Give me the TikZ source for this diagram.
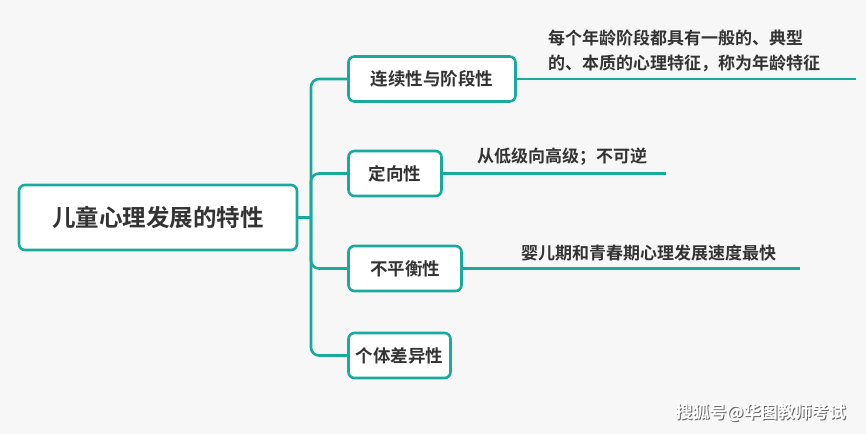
\documentclass[tikz,border=0pt]{standalone}
\usepackage{fontspec}
\newfontfamily\cjk{Noto Sans CJK SC}[BoldFont={Noto Sans CJK SC Bold}]
\definecolor{teal1}{HTML}{1AAA9B}
\definecolor{bg}{HTML}{F7F7F7}
\definecolor{txt}{HTML}{333333}
\begin{document}
\begin{tikzpicture}[x=1pt,y=-1pt,
  box/.style={draw=teal1,line width=2.6pt,rounded corners=6pt,fill=white,text=txt,font=\cjk\bfseries\fontsize{17.5}{20}\selectfont,inner sep=0pt},
  conn/.style={draw=teal1,line width=2.6pt},
  note/.style={text=txt,font=\cjk\bfseries\fontsize{17}{25}\selectfont,align=left,anchor=south west,inner sep=0pt}]
\fill[bg] (0,0) rectangle (866,434);
\useasboundingbox (0,0) rectangle (866,434);
\node[box,minimum width=278pt,minimum height=65pt,font=\cjk\bfseries\fontsize{23.5}{26}\selectfont] (root) at (158,217.5) {儿童心理发展的特性};
\node[box,minimum width=167pt,minimum height=45pt] (c1) at (432,79) {连续性与阶段性};
\node[box,minimum width=93pt,minimum height=45pt] (c2) at (395,173.5) {定向性};
\node[box,minimum width=113pt,minimum height=45pt] (c3) at (405,268.5) {不平衡性};
\node[box,minimum width=102pt,minimum height=45pt] (c4) at (399.5,355.5) {个体差异性};
\coordinate (t) at (311,217.5);
\draw[conn] (root.east) -- (t);
\draw[conn,rounded corners=8pt] (c1.west) -| (t) |- (c4.west);
\draw[conn,rounded corners=8pt] (t) |- (c2.west);
\draw[conn,rounded corners=8pt] (t) |- (c3.west);
\coordinate (e1) at (856,79);
\coordinate (e2) at (666,173.5);
\coordinate (e3) at (800,268.5);
\draw[conn] (c1.east) -- (e1);
\draw[conn] (c2.east) -- (e2);
\draw[conn] (c3.east) -- (e3);
\node[note] (n1) at (548,72) {每个年龄阶段都具有一般的、典型\\的、本质的心理特征，称为年龄特征};
\node[note] (n2) at (477,166) {从低级向高级；不可逆};
\node[note] (n3) at (521,261) {婴儿期和青春期心理发展速度最快};
\node[anchor=east,text=black!60,font=\cjk\bfseries\fontsize{17}{20}\selectfont,inner sep=0pt] at (847,414) {搜狐号@华图教师考试};
\node[anchor=east,text=white,font=\cjk\bfseries\fontsize{17}{20}\selectfont,inner sep=0pt] (wm) at (846,413) {搜狐号@华图教师考试};
\end{tikzpicture}
\end{document}
